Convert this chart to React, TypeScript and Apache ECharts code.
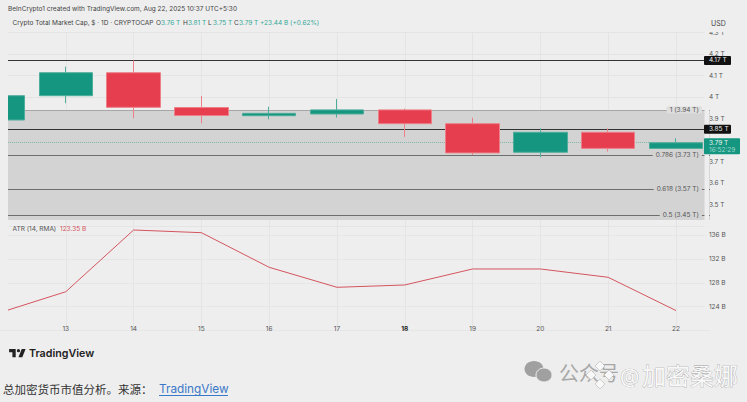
import React, { useEffect, useRef } from "react";
import * as echarts from "echarts";

const days = ["12", "13", "14", "15", "16", "17", "18", "19", "20", "21", "22"];
// open, close, low, high (trillions)
const candles = [
  [3.893, 4.006, 3.87, 4.02],
  [4.006, 4.113, 3.971, 4.141],
  [4.113, 3.952, 3.901, 4.17],
  [3.951, 3.914, 3.877, 4.005],
  [3.913, 3.924, 3.896, 3.955],
  [3.921, 3.94, 3.904, 3.991],
  [3.94, 3.876, 3.814, 3.946],
  [3.876, 3.74, 3.73, 3.904],
  [3.743, 3.836, 3.72, 3.854],
  [3.836, 3.761, 3.746, 3.854],
  [3.761, 3.787, 3.761, 3.808],
];
const atr = [122.9, 126.52, 136.89, 136.44, 130.62, 127.26, 127.65, 130.34, 130.34, 128.94, 123.35];
const fibLevels = [
  { label: "1 (3.94 T)", value: 3.94, color: "#a6a6a6", bg: "#dedede" },
  { label: "0.786 (3.73 T)", value: 3.73, color: "#6e6e6e", bg: "#d3d3d3" },
  { label: "0.618 (3.57 T)", value: 3.57, color: "#6e6e6e", bg: "#d3d3d3" },
  { label: "0.5 (3.45 T)", value: 3.45, color: "#6e6e6e", bg: "#d3d3d3" },
];
const blackLevels = [4.17, 3.85];
const lastPrice = 3.79;
const quote = [
  { k: "O", v: "3.76 T", x: 156 },
  { k: "H", v: "3.81 T", x: 183 },
  { k: "L", v: "3.75 T", x: 208 },
  { k: "C", v: "3.79 T", x: 234 },
];

const BG = "#eeeeee";
const FONT = "Inter, Roboto, sans-serif";
const CJK = '"Noto Sans CJK SC", sans-serif';
const GREEN = "#159680";
const RED = "#e63e4e";
const TV_D = "M14 6H2v6h6v9h6V6Zm12 15h-7l6-15h7l-6 15Zm-7-9a3 3 0 1 0 0-6 3 3 0 0 0 0 6Z";
// the canvas starts left of the page so that the cut-off first candle keeps its full band
const OFFSET = 40;
const FS = 6.5;

export default function App() {
  const ref = useRef<HTMLDivElement>(null);
  useEffect(() => {
    document.body.style.margin = "0";
    document.body.style.overflow = "hidden";
    echarts.graphic.registerShape("tvlogo", echarts.graphic.extendPath(TV_D, {}));
    const chart = echarts.init(ref.current!, null, { renderer: "svg" });
    const xBase = {
      type: "category",
      data: days,
      boundaryGap: true,
      axisLine: { show: false },
      axisTick: { show: false },
      splitLine: { show: true, interval: 0, alignWithLabel: true, lineStyle: { color: "#e4e4e4", width: 1 } },
    };
    const gridBase = { left: OFFSET - 35.9, width: 745.8, containLabel: false };
    chart.setOption({
      animation: false,
      backgroundColor: BG,
      grid: [
        { ...gridBase, top: 32.5, height: 193.5 },
        { ...gridBase, top: 211.5, height: 119 },
      ],
      xAxis: [
        { ...xBase, gridIndex: 0, axisLabel: { show: false } },
        {
          ...xBase,
          gridIndex: 1,
          axisLabel: {
            show: true,
            margin: -5,
            fontSize: FS,
            color: "#555",
            fontFamily: FONT,
            interval: 0,
            formatter: (v: string) => (v === "12" ? "" : v === "18" ? `{b|${v}}` : v),
            rich: { b: { fontSize: FS, fontWeight: "bold", color: "#222", fontFamily: FONT } },
          },
        },
      ],
      yAxis: [
        {
          type: "value",
          gridIndex: 0,
          position: "right",
          min: 3.4,
          max: 4.3,
          interval: 0.1,
          axisLine: { show: false },
          axisTick: { show: false },
          splitLine: { show: true, lineStyle: { color: "#e4e4e4", width: 1 } },
          axisLabel: {
            margin: -1,
            fontSize: FS,
            color: "#555",
            fontFamily: FONT,
            showMinLabel: false,
            // the 3.8 T label lies behind the last-price tag in the reference
            formatter: (v: number) => (Math.abs(v - 3.8) < 0.01 ? "" : `${+v.toFixed(1)} T`),
          },
        },
        {
          type: "value",
          gridIndex: 1,
          position: "right",
          min: 120,
          max: 140,
          interval: 4,
          axisLine: { show: false },
          axisTick: { show: false },
          splitLine: { show: true, lineStyle: { color: "#e6e6e6", width: 1 } },
          axisLabel: {
            margin: -1,
            fontSize: FS,
            color: "#555",
            fontFamily: FONT,
            showMinLabel: false,
            showMaxLabel: false,
            formatter: (v: number) => `${v} B`,
          },
        },
      ],
      series: [
        {
          type: "line",
          xAxisIndex: 0,
          yAxisIndex: 0,
          z: 1,
          silent: true,
          data: [],
          markArea: {
            z: 1,
            silent: true,
            itemStyle: { color: "#d3d3d3" },
            data: [[{ yAxis: 3.94 }, { yAxis: 3.428 }]],
          },
          markLine: {
            z: 2,
            silent: true,
            symbol: "none",
            animation: false,
            data: [
              ...fibLevels.map((f) => ({
                yAxis: f.value,
                lineStyle: { color: f.color, width: 1, type: "solid" },
                label: {
                  show: true,
                  position: "insideEnd",
                  distance: 8,
                  formatter: f.label,
                  fontSize: FS,
                  color: "#555",
                  fontFamily: FONT,
                  backgroundColor: f.bg,
                  padding: [0, 3],
                },
              })),
              ...blackLevels.map((v) => ({
                yAxis: v,
                lineStyle: { color: "#333", width: 1, type: "solid" },
                label: { show: false },
              })),
              {
                yAxis: lastPrice,
                lineStyle: { color: "#7fb5aa", width: 1, type: "dotted" },
                label: { show: false },
              },
            ],
          },
        },
        {
          type: "candlestick",
          xAxisIndex: 0,
          yAxisIndex: 0,
          z: 3,
          barWidth: 54,
          data: candles,
          itemStyle: {
            color: GREEN,
            color0: RED,
            borderColor: "#4fae9b",
            borderColor0: "#ec7f88",
            borderWidth: 1,
          },
        },
        {
          type: "line",
          xAxisIndex: 1,
          yAxisIndex: 1,
          z: 3,
          data: atr,
          symbol: "none",
          lineStyle: { color: "#d4555e", width: 1 },
        },
      ],
    });

    const yP = (v: number) => chart.convertToPixel({ yAxisIndex: 0 }, v) as number;
    const text = (x: number, y: number, t: string, fill = "#444", fontSize = FS, extra: any = {}) => ({
      type: "text",
      x,
      y,
      z: 120,
      silent: true,
      style: { text: t, fill, fontSize, fontFamily: FONT, verticalAlign: "middle", ...extra },
    });
    const tag = (v: number) => [
      { type: "rect", z: 115, silent: true, shape: { x: 704, y: yP(v) - 4.5, width: 27, height: 9, r: 1 }, style: { fill: "#111" } },
      text(709, yP(v), `${v} T`, "#eee"),
    ];
    const q = (x: number, y: number) => ({
      type: "rect",
      z: 125,
      silent: true,
      x,
      y,
      rotation: Math.PI / 4,
      shape: { x: -3.5, y: -3.5, width: 7, height: 7 },
      style: { fill: "#f8f8f8", stroke: "#b5b5b5", lineWidth: 0.6 },
    });

    chart.setOption({
      graphic: [
        {
          type: "group",
          x: OFFSET,
          y: 0,
          children: [
            // pane edges: the leftmost candle is cut by the pane, as in the reference
            { type: "rect", z: 100, silent: true, shape: { x: -OFFSET, y: 28, width: OFFSET + 8, height: 298 }, style: { fill: BG } },
            { type: "rect", z: 100, silent: true, shape: { x: 704.5, y: 28, width: 4.5, height: 298 }, style: { fill: BG } },
            { type: "rect", z: 100, silent: true, shape: { x: 704.5, y: 26, width: 30, height: 6 }, style: { fill: BG } },
            text(8, 8.5, "BeInCrypto1 created with TradingView.com, Aug 22, 2025 10:37 UTC+5:30"),
            text(12.5, 22.7, "Crypto Total Market Cap, $ · 1D · CRYPTOCAP"),
            ...quote.flatMap((o) => [text(o.x, 22.7, o.k), text(o.x + 5, 22.7, o.v, "#35a899")]),
            text(260, 22.7, "+23.44 B (+0.62%)", "#35a899"),
            text(711, 23.5, "USD", "#444", 7),
            text(12.5, 229, "ATR (14, RMA)", "#555"),
            text(60, 229, "123.35 B", "#d4555e"),
            ...blackLevels.flatMap(tag),
            {
              type: "rect",
              z: 115,
              silent: true,
              shape: { x: 704, y: yP(lastPrice) - 4, width: 36, height: 16, r: 1 },
              style: { fill: GREEN },
            },
            text(709, yP(lastPrice) + 0.5, `${lastPrice} T`, "#e8f5f2"),
            text(709, yP(lastPrice) + 7.5, "16:52:29", "#9ed8cc"),
            { type: "tvlogo", z: 120, silent: true, x: 8, y: 345.7, scaleX: 0.55, scaleY: 0.55, style: { fill: "#222" } },
            text(29, 353, "TradingView", "#222", 10.7, { fontWeight: 600 }),
            text(3, 389, "总加密货币市值分析。来源：", "#333", 11.5, { fontFamily: CJK }),
            text(159, 389, "TradingView", "#3a78c9", 11.8),
            { type: "line", z: 120, silent: true, shape: { x1: 159, y1: 395.5, x2: 228, y2: 395.5 }, style: { stroke: "#3a78c9", lineWidth: 1 } },
            // watermark
            { type: "ellipse", z: 120, silent: true, shape: { cx: 534, cy: 369, rx: 9.5, ry: 8 }, style: { fill: "#a0a0a0" } },
            { type: "ellipse", z: 121, silent: true, shape: { cx: 544, cy: 375, rx: 8, ry: 7 }, style: { fill: "#a0a0a0", stroke: BG, lineWidth: 1 } },
            text(559, 372, "公众号", "#a8a8a8", 20, { fontFamily: CJK }),
            text(620, 376, "@", "#f8f8f8", 20, { stroke: "#999", lineWidth: 0.6 }),
            text(642, 374, "加密桑娜", "#f8f8f8", 24, { fontFamily: CJK, stroke: "#999", lineWidth: 0.6 }),
            q(600, 366),
            q(591, 375),
            q(609, 375),
            q(600, 384),
          ],
        },
      ],
    });
    return () => chart.dispose();
  }, []);
  return <div ref={ref} style={{ position: "fixed", left: -OFFSET, top: 0, width: 747 + OFFSET, height: 402 }} />;
}
